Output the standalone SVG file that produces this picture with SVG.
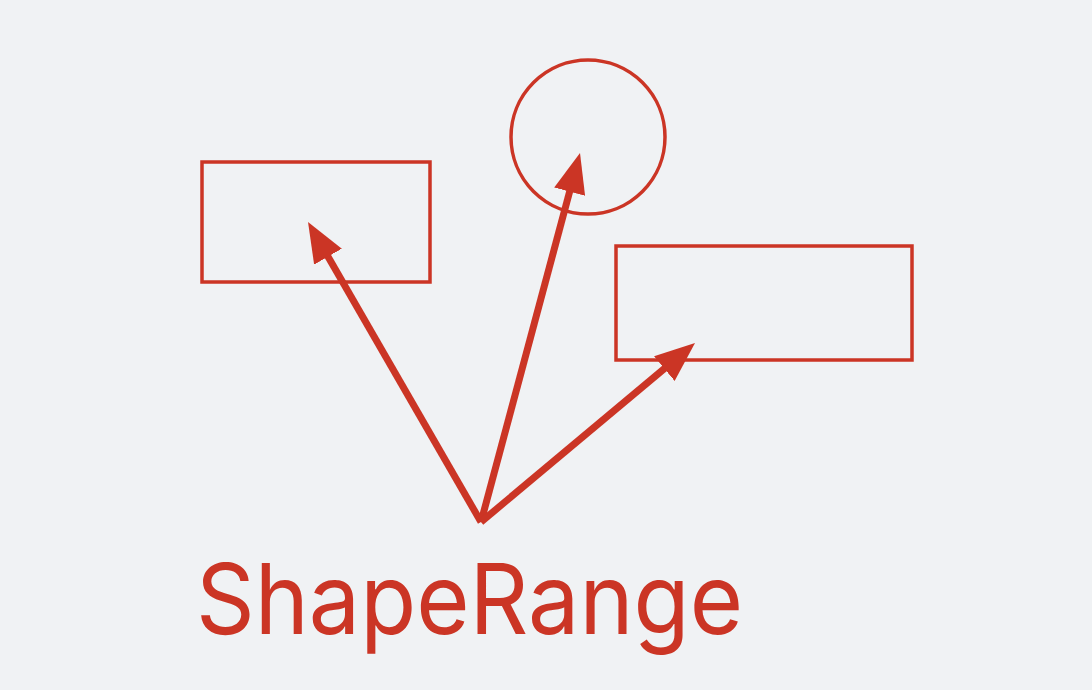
<svg xmlns="http://www.w3.org/2000/svg" width="1092" height="690" viewBox="0 0 1092 690">
<style>
.shape{fill:none;stroke:#cb3525;stroke-width:3.5}
.conn{stroke:#cb3525;stroke-width:7;fill:none}
.label{font-family:Inter,"Noto Sans","Liberation Sans",sans-serif;font-size:98px;fill:#cb3525}
</style>
<defs>
<marker id="ah" markerUnits="userSpaceOnUse" markerWidth="40" markerHeight="32" refX="1" refY="16" orient="auto" viewBox="0 0 40 32">
<path d="M0,0 L40,16 L0,32 z" fill="#cb3525"/>
</marker>
</defs>
<rect width="1092" height="690" fill="#f0f2f4"/>
<g id="rect-left"><rect class="shape" x="202" y="162" width="228" height="120"/></g>
<g id="circle"><circle class="shape" cx="588" cy="137" r="77"/></g>
<g id="rect-right"><rect class="shape" x="616" y="246" width="296" height="114"/></g>
<g id="connectors">
<line class="conn" x1="481" y1="522" x2="327.5" y2="255.8" marker-end="url(#ah)"/>
<line class="conn" x1="481" y1="522" x2="569.9" y2="190.7" marker-end="url(#ah)"/>
<line class="conn" x1="481" y1="522" x2="665.1" y2="368" marker-end="url(#ah)"/>
</g>
<g id="label"><text class="label" x="196" y="634" textLength="547" lengthAdjust="spacingAndGlyphs">ShapeRange</text></g>
</svg>
